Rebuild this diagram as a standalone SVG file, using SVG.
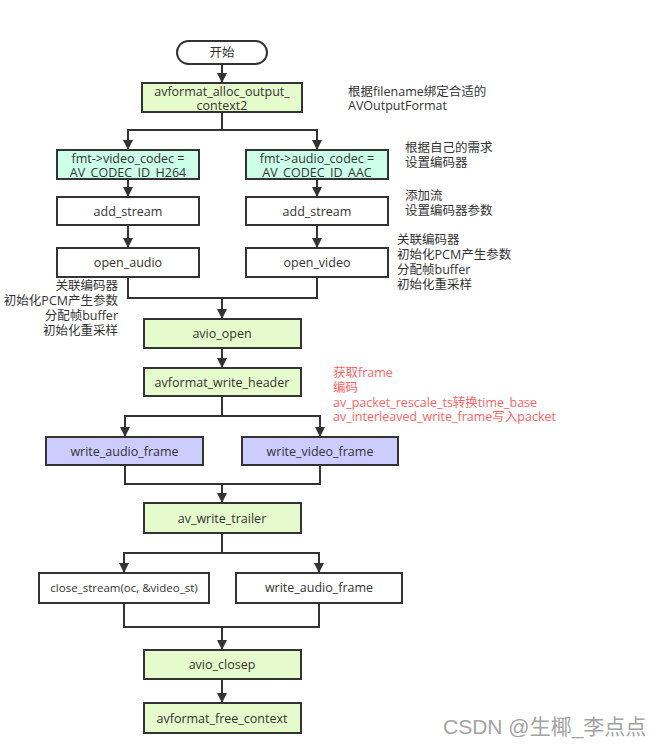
<svg xmlns="http://www.w3.org/2000/svg" width="660" height="748" viewBox="0 0 660 748">
<style>
text{font-family:"Open Sans","Noto Sans CJK SC",sans-serif;}
.box{stroke:#333;stroke-width:2;}
.green{fill:#e6fbcb;}
.cyan{fill:#ccffe8;}
.purple{fill:#ccccff;}
.white{fill:#ffffff;}
.lbl{font-size:12.5px;fill:#333;text-anchor:middle;}
.note{font-size:12.5px;fill:#333;}
.red{font-size:12.5px;fill:#ff6464;}
.conn path{fill:none;stroke:#333;stroke-width:2;}
</style>
<defs>
<marker id="arr" viewBox="0 0 10 10" refX="10" refY="5" markerWidth="10" markerHeight="12" markerUnits="userSpaceOnUse" orient="auto">
<path d="M0,0 L10,5 L0,10 z" fill="#333"/>
</marker>
</defs>
<rect width="660" height="748" fill="#fff"/>
<g class="conn">
<path d="M222,64 V83" marker-end="url(#arr)"/>
<path d="M222,112 V130 H128 V150" marker-end="url(#arr)"/>
<path d="M222,130 H317 V150" marker-end="url(#arr)"/>
<path d="M128,179 V197" marker-end="url(#arr)"/>
<path d="M317,179 V197" marker-end="url(#arr)"/>
<path d="M128,225 V248" marker-end="url(#arr)"/>
<path d="M317,225 V248" marker-end="url(#arr)"/>
<path d="M128,277 V298 H222 V319" marker-end="url(#arr)"/>
<path d="M317,277 V298 H222"/>
<path d="M222,348 V368" marker-end="url(#arr)"/>
<path d="M222,396 V416 H125 V437" marker-end="url(#arr)"/>
<path d="M222,416 H320 V437" marker-end="url(#arr)"/>
<path d="M125,465 V484 H222 V503" marker-end="url(#arr)"/>
<path d="M320,465 V484 H222"/>
<path d="M222,533 V553 H124 V573" marker-end="url(#arr)"/>
<path d="M222,553 H319 V573" marker-end="url(#arr)"/>
<path d="M124,603 V627 H222 V650" marker-end="url(#arr)"/>
<path d="M319,603 V627 H222"/>
<path d="M222,679 V703" marker-end="url(#arr)"/>
</g>
<g id="start">
<rect class="box white" x="177" y="41" width="90" height="23" rx="11.5"/>
<text class="lbl" x="222" y="57">开始</text>
</g>
<g id="alloc">
<rect class="box green" x="142" y="83" width="160" height="29"/>
<text class="lbl" x="222" y="96">avformat_alloc_output_</text>
<text class="lbl" x="222" y="110">context2</text>
</g>
<g id="fmt_video">
<rect class="box cyan" x="57" y="150" width="142" height="29"/>
<text class="lbl" x="128" y="162.5">fmt-&gt;video_codec =</text>
<text class="lbl" x="128" y="177">AV_CODEC_ID_H264</text>
</g>
<g id="fmt_audio">
<rect class="box cyan" x="246" y="150" width="142" height="29"/>
<text class="lbl" x="317" y="162.5">fmt-&gt;audio_codec =</text>
<text class="lbl" x="317" y="177">AV_CODEC_ID_AAC</text>
</g>
<g id="add_stream_v">
<rect class="box white" x="57" y="197" width="142" height="28"/>
<text class="lbl" x="128" y="215.5">add_stream</text>
</g>
<g id="add_stream_a">
<rect class="box white" x="246" y="197" width="142" height="28"/>
<text class="lbl" x="317" y="215.5">add_stream</text>
</g>
<g id="open_audio">
<rect class="box white" x="57" y="248" width="142" height="29"/>
<text class="lbl" x="128" y="267">open_audio</text>
</g>
<g id="open_video">
<rect class="box white" x="246" y="248" width="142" height="29"/>
<text class="lbl" x="317" y="267">open_video</text>
</g>
<g id="avio_open">
<rect class="box green" x="144" y="319" width="157" height="29"/>
<text class="lbl" x="222" y="338">avio_open</text>
</g>
<g id="write_header">
<rect class="box green" x="144" y="368" width="157" height="28"/>
<text class="lbl" x="222" y="386.5">avformat_write_header</text>
</g>
<g id="write_audio_frame">
<rect class="box purple" x="46" y="437" width="157" height="28"/>
<text class="lbl" x="124.5" y="455.5">write_audio_frame</text>
</g>
<g id="write_video_frame">
<rect class="box purple" x="242" y="437" width="156" height="28"/>
<text class="lbl" x="320" y="455.5">write_video_frame</text>
</g>
<g id="write_trailer">
<rect class="box green" x="144" y="503" width="157" height="30"/>
<text class="lbl" x="222" y="522.5">av_write_trailer</text>
</g>
<g id="close_stream">
<rect class="box white" x="39" y="573" width="170" height="30"/>
<text class="lbl" x="124" y="592" style="font-size:11.5px">close_stream(oc, &amp;video_st)</text>
</g>
<g id="write_audio_frame2">
<rect class="box white" x="236" y="573" width="166" height="30"/>
<text class="lbl" x="319" y="592">write_audio_frame</text>
</g>
<g id="avio_closep">
<rect class="box green" x="144" y="650" width="157" height="29"/>
<text class="lbl" x="222" y="669">avio_closep</text>
</g>
<g id="free_context">
<rect class="box green" x="144" y="703" width="157" height="30"/>
<text class="lbl" x="222" y="722.5">avformat_free_context</text>
</g>
<g id="notes">
<text class="note" x="348" y="95.5">根据filename绑定合适的</text>
<text class="note" x="348" y="110">AVOutputFormat</text>
<text class="note" x="405" y="151.5">根据自己的需求</text>
<text class="note" x="405" y="167">设置编码器</text>
<text class="note" x="405" y="199.5">添加流</text>
<text class="note" x="405" y="214.5">设置编码器参数</text>
<text class="note" x="397" y="243.5">关联编码器</text>
<text class="note" x="397" y="258.5">初始化PCM产生参数</text>
<text class="note" x="397" y="273.5">分配帧buffer</text>
<text class="note" x="397" y="288.5">初始化重采样</text>
<g style="text-anchor:end">
<text class="note" x="118" y="290">关联编码器</text>
<text class="note" x="118" y="304.5">初始化PCM产生参数</text>
<text class="note" x="118" y="319.5">分配帧buffer</text>
<text class="note" x="118" y="334.5">初始化重采样</text>
</g>
<text class="red" x="333" y="376.5">获取frame</text>
<text class="red" x="333" y="391.5">编码</text>
<text class="red" x="333" y="406.5">av_packet_rescale_ts转换time_base</text>
<text class="red" x="333" y="420.5">av_interleaved_write_frame写入packet</text>
</g>
<text x="443" y="734" style="font-family:'Liberation Sans','Noto Sans CJK SC',sans-serif;font-size:21px;fill:#a3a3a3">CSDN @生椰_李点点</text>
</svg>
